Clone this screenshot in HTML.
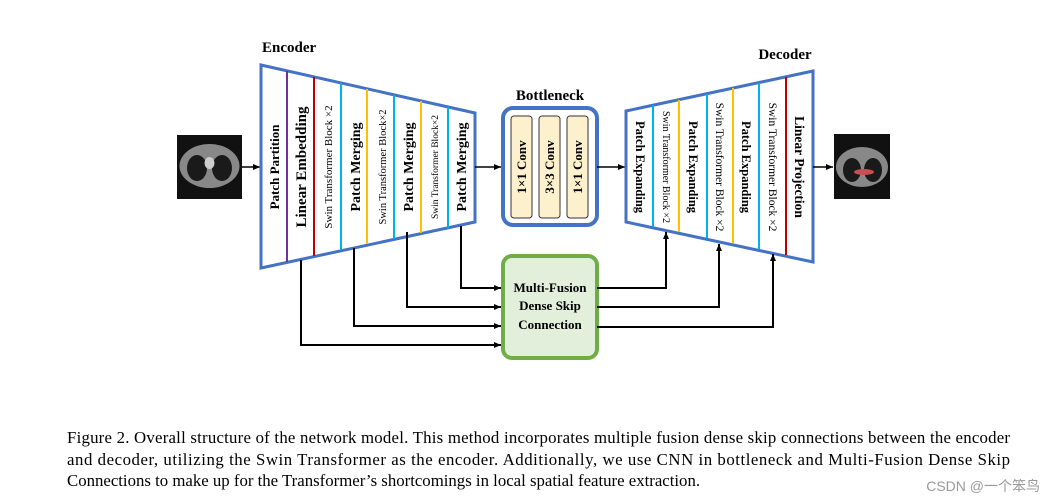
<!DOCTYPE html>
<html><head><meta charset="utf-8"><style>
html,body{margin:0;padding:0;background:#fff;}
svg{display:block;}
.s{font-family:"Liberation Serif",serif;}
</style></head><body>
<svg width="1049" height="504" viewBox="0 0 1049 504" xmlns="http://www.w3.org/2000/svg" class="s">
<defs>
<marker id="ah" markerWidth="8" markerHeight="8" refX="7" refY="4" orient="auto" markerUnits="userSpaceOnUse">
<path d="M0,1 L7,4 L0,7 Z" fill="#000"/></marker>
</defs>
<rect x="177" y="135" width="65" height="64" fill="#111"/>
<ellipse cx="209.5" cy="166" rx="30" ry="22" fill="#888"/>
<ellipse cx="197" cy="168" rx="10" ry="13" fill="#1a1a1a"/>
<ellipse cx="222" cy="168" rx="10" ry="13" fill="#1a1a1a"/>
<ellipse cx="209.5" cy="163" rx="5" ry="6" fill="#ccc"/>
<line x1="242" y1="167" x2="260" y2="167" stroke="#000" stroke-width="1.5" marker-end="url(#ah)"/>
<text x="262" y="52" font-size="15" font-weight="bold">Encoder</text>
<polygon points="261,65 475,113 475,222 261,268" fill="#fff" stroke="#4472c4" stroke-width="3"/>
<g stroke-width="2">
<line x1="287" y1="71" x2="287" y2="262" stroke="#7030a0"/>
<line x1="314" y1="77" x2="314" y2="256" stroke="#c00000"/>
<line x1="341" y1="83" x2="341" y2="250" stroke="#00b0f0"/>
<line x1="367" y1="89" x2="367" y2="244" stroke="#ffc000"/>
<line x1="394" y1="95" x2="394" y2="239" stroke="#00b0f0"/>
<line x1="421" y1="101" x2="421" y2="233" stroke="#ffc000"/>
<line x1="448" y1="107" x2="448" y2="228" stroke="#00b0f0"/>
</g>
<g text-anchor="middle">
<text transform="translate(279,167) rotate(-90)" font-size="13" font-weight="bold">Patch Partition</text>
<text transform="translate(306,167) rotate(-90)" font-size="15" font-weight="bold">Linear Embedding</text>
<text transform="translate(332,167) rotate(-90)" font-size="11">Swin Transformer Block ×2</text>
<text transform="translate(360,167) rotate(-90)" font-size="14" font-weight="bold">Patch Merging</text>
<text transform="translate(386,167) rotate(-90)" font-size="10.5">Swin Transformer Block×2</text>
<text transform="translate(413,167) rotate(-90)" font-size="14" font-weight="bold">Patch Merging</text>
<text transform="translate(438,167) rotate(-90)" font-size="9.5">Swin Transformer Block×2</text>
<text transform="translate(466,167) rotate(-90)" font-size="14" font-weight="bold">Patch Merging</text>
</g>
<line x1="475" y1="167" x2="501" y2="167" stroke="#000" stroke-width="1.5" marker-end="url(#ah)"/>
<text x="550" y="100" font-size="15" font-weight="bold" text-anchor="middle">Bottleneck</text>
<rect x="503" y="108" width="94" height="117" rx="10" fill="#fff" stroke="#4472c4" stroke-width="4"/>
<g fill="#fdf0cc" stroke="#333" stroke-width="1">
<rect x="511" y="116" width="21" height="102" rx="3"/>
<rect x="539" y="116" width="21" height="102" rx="3"/>
<rect x="567" y="116" width="21" height="102" rx="3"/>
</g>
<g text-anchor="middle" font-size="13" font-weight="bold">
<text transform="translate(526,167) rotate(-90)">1×1 Conv</text>
<text transform="translate(554,167) rotate(-90)">3×3 Conv</text>
<text transform="translate(582,167) rotate(-90)">1×1 Conv</text>
</g>
<line x1="597" y1="167" x2="625" y2="167" stroke="#000" stroke-width="1.5" marker-end="url(#ah)"/>
<text x="785" y="59" font-size="15" font-weight="bold" text-anchor="middle">Decoder</text>
<polygon points="626,111 813,71 813,262 626,222" fill="#fff" stroke="#4472c4" stroke-width="3"/>
<g stroke-width="2">
<line x1="653" y1="105" x2="653" y2="227" stroke="#00b0f0"/>
<line x1="679" y1="100" x2="679" y2="232" stroke="#ffc000"/>
<line x1="707" y1="94" x2="707" y2="238" stroke="#00b0f0"/>
<line x1="733" y1="88" x2="733" y2="243" stroke="#ffc000"/>
<line x1="759" y1="83" x2="759" y2="249" stroke="#00b0f0"/>
<line x1="786" y1="77" x2="786" y2="255" stroke="#c00000"/>
</g>
<g text-anchor="middle">
<text transform="translate(636,167) rotate(90)" font-size="12.5" font-weight="bold">Patch Expanding</text>
<text transform="translate(663,167) rotate(90)" font-size="10">Swin Transformer Block ×2</text>
<text transform="translate(689,167) rotate(90)" font-size="12.5" font-weight="bold">Patch Expanding</text>
<text transform="translate(716,167) rotate(90)" font-size="11.5">Swin Transformer Block ×2</text>
<text transform="translate(742,167) rotate(90)" font-size="12.5" font-weight="bold">Patch Expanding</text>
<text transform="translate(769,167) rotate(90)" font-size="11.5">Swin Transformer Block ×2</text>
<text transform="translate(795,167) rotate(90)" font-size="13.5" font-weight="bold">Linear Projection</text>
</g>
<line x1="813" y1="167" x2="833" y2="167" stroke="#000" stroke-width="1.5" marker-end="url(#ah)"/>
<rect x="834" y="134" width="56" height="65" fill="#111"/>
<ellipse cx="862" cy="167" rx="26" ry="20" fill="#888"/>
<ellipse cx="852" cy="170" rx="9" ry="12" fill="#1a1a1a"/>
<ellipse cx="873" cy="170" rx="9" ry="12" fill="#1a1a1a"/>
<ellipse cx="864" cy="172" rx="10" ry="3" fill="#c85050"/>
<rect x="503" y="256" width="94" height="102" rx="9" fill="#e2efda" stroke="#70ad47" stroke-width="4"/>
<g text-anchor="middle" font-size="13" font-weight="bold">
<text x="550" y="292">Multi-Fusion</text>
<text x="550" y="310">Dense  Skip</text>
<text x="550" y="329">Connection</text>
</g>
<g fill="none" stroke="#000" stroke-width="2">
<polyline points="461,226 461,288 501,288" marker-end="url(#ah)"/>
<polyline points="407,232 407,307 501,307" marker-end="url(#ah)"/>
<polyline points="354,248 354,326 501,326" marker-end="url(#ah)"/>
<polyline points="301,260 301,345 501,345" marker-end="url(#ah)"/>
<polyline points="597,288 666,288 666,232" marker-end="url(#ah)"/>
<polyline points="597,307 719,307 719,244" marker-end="url(#ah)"/>
<polyline points="597,327 773,327 773,254" marker-end="url(#ah)"/>
</g>
<g font-size="16.8" fill="#000">
<text x="67" y="443" textLength="943" lengthAdjust="spacing">Figure 2. Overall structure of the network model. This method incorporates multiple fusion dense skip connections between the encoder</text>
<text x="67" y="465" textLength="943" lengthAdjust="spacing">and decoder, utilizing the Swin Transformer as the encoder.  Additionally, we use CNN in bottleneck and Multi-Fusion Dense Skip</text>
<text x="67" y="486">Connections to make up for the Transformer’s shortcomings in local spatial feature extraction.</text>
</g>
<text x="1040" y="491" font-size="14" fill="#999" text-anchor="end" font-family="Liberation Sans, Noto Sans CJK SC, sans-serif">CSDN @一个笨鸟</text>
</svg>
</body></html>
